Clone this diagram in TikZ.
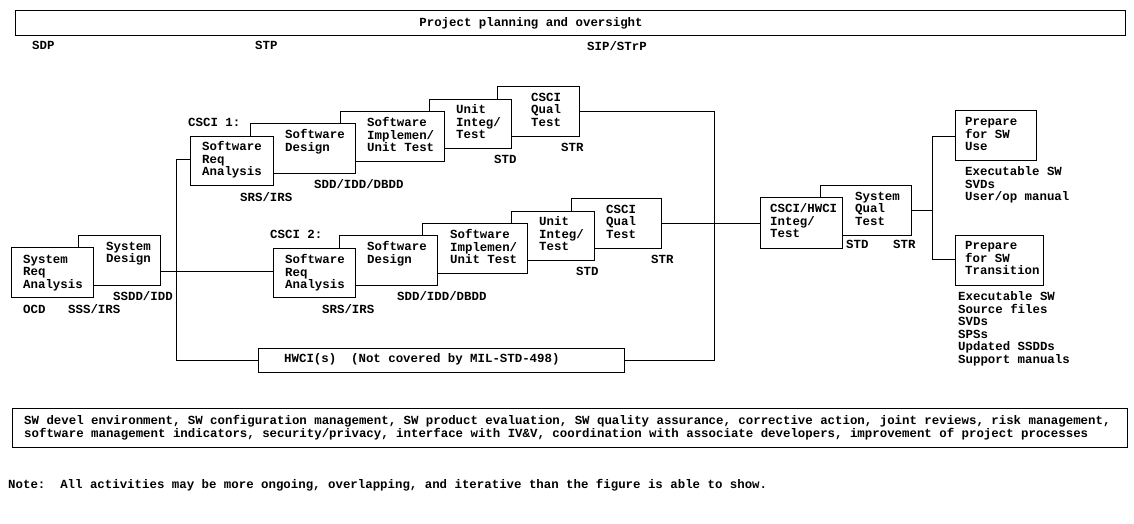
\documentclass[tikz,border=0pt]{standalone}
\usepackage{fontspec}
\setmonofont{Liberation Mono}
\newcommand{\ttx}{\fontsize{12.4}{12.5}\selectfont\ttfamily\bfseries}
\begin{document}
\begin{tikzpicture}[x=1pt,y=-1pt,
  box/.style={draw,fill=white,line width=0.9pt,inner sep=0,anchor=north west},
  txt/.style={anchor=north west,inner sep=0,align=left,font=\ttx,yshift=6.5pt},
  ln/.style={line width=0.9pt}]
\useasboundingbox[fill=white] (0,0) rectangle (1134,523);
% top box
\node[box,minimum width=1110,minimum height=25] (plan) at (15,10) {};
\node[txt,anchor=center,yshift=-6.5pt] (plant) at (531,23) {Project planning and oversight};
\node[txt] (sdp) at (32,48) {SDP};
\node[txt] (stp) at (255,48) {STP};
\node[txt] (sip) at (587,48) {SIP/STrP};
% system level
\node[box,minimum width=82,minimum height=50] (sysd) at (78,235) {};
\node[box,minimum width=82,minimum height=50] (sysr) at (11,247) {};
\node[txt] at (23,261) {System\\Req\\Analysis};
\node[txt] at (106,248) {System\\Design};
% CSCI 1
\node[box,minimum width=82,minimum height=50] (c1q) at (497,86) {};
\node[box,minimum width=82,minimum height=49] (c1u) at (429,99) {};
\node[box,minimum width=104,minimum height=50] (c1i) at (340,111) {};
\node[box,minimum width=105,minimum height=50] (c1d) at (250,123) {};
\node[box,minimum width=83,minimum height=49] (c1r) at (190,136) {};
\node[txt] at (202,148) {Software\\Req\\Analysis};
\node[txt] at (285,136) {Software\\Design};
\node[txt] at (367,124) {Software\\Implemen/\\Unit Test};
\node[txt] at (456,111) {Unit\\Integ/\\Test};
\node[txt] at (531,99) {CSCI\\Qual\\Test};
\node[txt] at (188,124) {CSCI 1:};
\node[txt] at (314,186) {SDD/IDD/DBDD};
\node[txt] at (240,199) {SRS/IRS};
\node[txt] at (494,161) {STD};
\node[txt] at (561,149) {STR};
% CSCI 2
\node[box,minimum width=90,minimum height=50] (c2q) at (571,198) {};
\node[box,minimum width=83,minimum height=49] (c2u) at (511,211) {};
\node[box,minimum width=105,minimum height=50] (c2i) at (422,223) {};
\node[box,minimum width=98,minimum height=50] (c2d) at (339,235) {};
\node[box,minimum width=82,minimum height=49] (c2r) at (273,248) {};
\node[txt] at (285,261) {Software\\Req\\Analysis};
\node[txt] at (367,248) {Software\\Design};
\node[txt] at (450,236) {Software\\Implemen/\\Unit Test};
\node[txt] at (539,223) {Unit\\Integ/\\Test};
\node[txt] at (606,211) {CSCI\\Qual\\Test};
\node[txt] at (270,236) {CSCI 2:};
\node[txt] at (397,298) {SDD/IDD/DBDD};
\node[txt] at (322,311) {SRS/IRS};
\node[txt] at (576,273) {STD};
\node[txt] at (651,261) {STR};
\node[txt] at (113,298) {SSDD/IDD};
\node[txt] at (23,311) {OCD};
\node[txt] at (68,311) {SSS/IRS};
% HWCI
\node[box,minimum width=366,minimum height=24] (hw) at (258,348) {};
\node[txt] at (284,360) {HWCI(s)\ \ (Not covered by MIL-STD-498)};
% right side
\node[box,minimum width=91,minimum height=50] (sq) at (820,185) {};
\node[box,minimum width=82,minimum height=51] (ci) at (760,197) {};
\node[txt] at (770,210) {CSCI/HWCI\\Integ/\\Test};
\node[txt] at (855,198) {System\\Qual\\Test};
\node[txt] at (846,246) {STD};
\node[txt] at (893,246) {STR};
\node[box,minimum width=81,minimum height=50] (pu) at (955,110) {};
\node[txt] at (965,124) {Prepare\\for SW\\Use};
\node[box,minimum width=88,minimum height=50] (pt) at (955,235) {};
\node[txt] at (965,248) {Prepare\\for SW\\Transition};
\node[txt] at (965,173) {Executable SW\\SVDs\\User/op manual};
\node[txt] at (958,298) {Executable SW\\Source files\\SVDs\\SPSs\\Updated SSDDs\\Support manuals};
% bottom
\node[box,minimum width=1115,minimum height=39] (env) at (12,408) {};
\node[txt] at (24,422) {SW devel environment, SW configuration management, SW product evaluation, SW quality assurance, corrective action, joint reviews, risk management,\\software management indicators, security/privacy, interface with IV\&V, coordination with associate developers, improvement of project processes};
\node[txt] at (8,486) {Note:\ \ All activities may be more ongoing, overlapping, and iterative than the figure is able to show.};
% connectors
\coordinate (j1) at (176,271);
\coordinate (j2) at (176,159);
\coordinate (j3) at (176,360);
\coordinate (k1) at (714,111);
\coordinate (k2) at (714,223);
\coordinate (k3) at (714,360);
\coordinate (m1) at (932,210);
\coordinate (m2) at (932,136);
\coordinate (m3) at (932,259);
\draw[ln] (sysd.east |- j1) -- (c2r.west |- j1);
\draw[ln] (c1r.west |- j2) -- (j2) -- (j3) -- (hw.west |- j3);
\draw[ln] (c1q.east |- k1) -- (k1) -- (k3) -- (hw.east |- k3);
\draw[ln] (c2q.east |- k2) -- (ci.west |- k2);
\draw[ln] (sq.east |- m1) -- (m1);
\draw[ln] (pu.west |- m2) -- (m2) -- (m3) -- (pt.west |- m3);
\end{tikzpicture}
\end{document}
